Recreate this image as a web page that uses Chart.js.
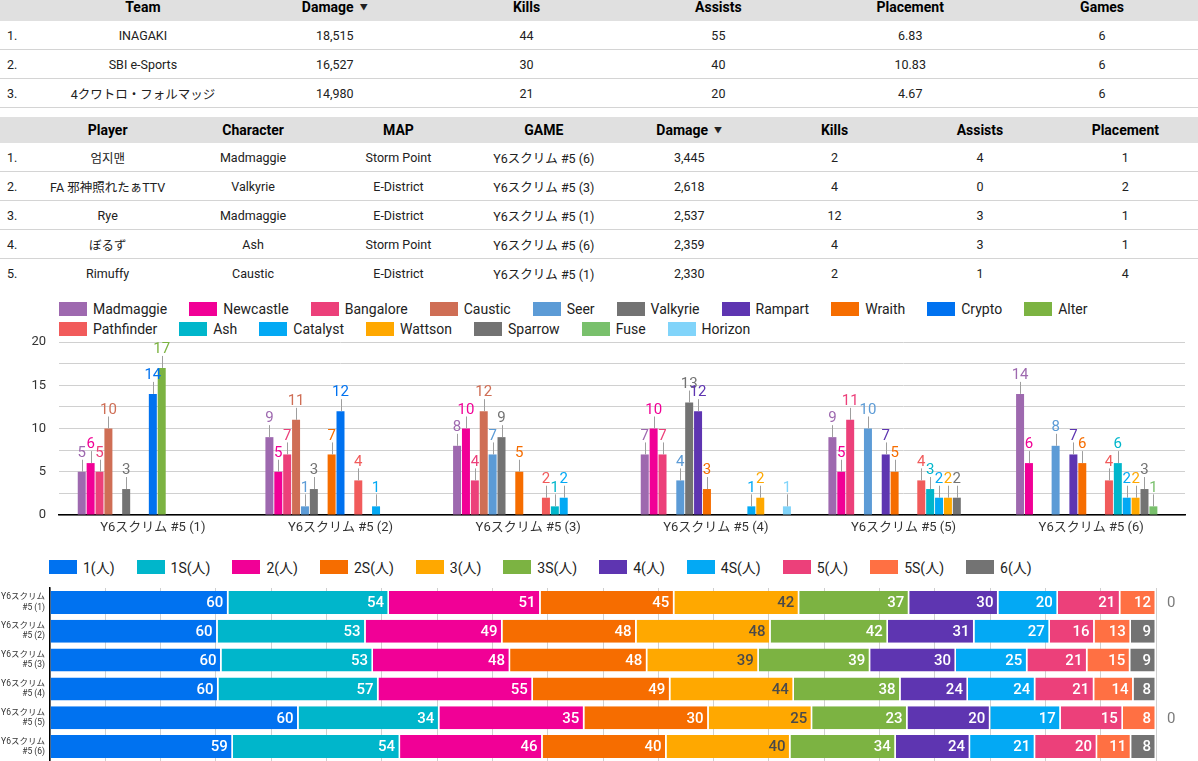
<!DOCTYPE html>
<html>
<head>
<meta charset="utf-8">
<script src="https://cdn.jsdelivr.net/npm/chart.js@4.4.1/dist/chart.umd.min.js"></script>
<style>
body{margin:0;width:1198px;height:761px;overflow:hidden;background:#fff;position:relative;
  font-family:Roboto,"Noto Sans CJK JP","Noto Sans CJK KR",sans-serif;color:#212121}
table{border-collapse:collapse;table-layout:fixed;position:absolute;left:0;width:1198px}
th{background:#e0e0e0;font-weight:700;font-size:14px;color:#000;text-align:center;padding:0;white-space:nowrap}
th .arr{font-size:8px;margin-left:6px;vertical-align:2px;color:#222}
td{font-size:12.5px;text-align:center;padding:0;border-bottom:1px solid #d4d4d4;white-space:nowrap;overflow:hidden}
td.i,th.i{text-align:left;padding-left:7px}
#t1{top:-7px} #t1 th{height:28px} #t1 td{height:28px}
#t2{top:117px} #t2 th{height:26px} #t2 td{height:28px}
#t2 tr:last-child td{border-bottom:none}
.legend{position:absolute;display:flex;flex-wrap:wrap;column-gap:22px;row-gap:6px;font-size:14px;color:#222}
.legend .it{display:flex;align-items:center;height:14px;white-space:nowrap}
.legend .bx{width:28px;height:14px;margin-right:6px}
#lg1{left:59px;top:302px;width:1120px}
#lg2{left:49px;top:560px;width:1140px;column-gap:22px}
.cv{position:absolute;left:0;width:1198px}
#w1{top:336px;height:205px}
#w2{top:584px;height:177px}
</style>
</head>
<body>
<table id="t1"></table>
<table id="t2"></table>
<div class="legend" id="lg1"></div>
<div class="cv" id="w1"><canvas id="c1"></canvas></div>
<div class="legend" id="lg2"></div>
<div class="cv" id="w2"><canvas id="c2"></canvas></div>
<script>
// ---- top tables ----
const teamCols = ["Team", "Damage", "Kills", "Assists", "Placement", "Games"];
const teamRows = [
  ["INAGAKI", "18,515", "44", "55", "6.83", "6"],
  ["SBI e-Sports", "16,527", "30", "40", "10.83", "6"],
  ["4クワトロ・フォルマッジ", "14,980", "21", "20", "4.67", "6"],
];
const playerCols = ["Player", "Character", "MAP", "GAME", "Damage", "Kills", "Assists", "Placement"];
const playerRows = [
  ["엄지맨", "Madmaggie", "Storm Point", "Y6スクリム #5 (6)", "3,445", "2", "4", "1"],
  ["FA 邪神照れたぁTTV", "Valkyrie", "E-District", "Y6スクリム #5 (3)", "2,618", "4", "0", "2"],
  ["Rye", "Madmaggie", "E-District", "Y6スクリム #5 (1)", "2,537", "12", "3", "1"],
  ["ぼるず", "Ash", "Storm Point", "Y6スクリム #5 (6)", "2,359", "4", "3", "1"],
  ["Rimuffy", "Caustic", "E-District", "Y6スクリム #5 (1)", "2,330", "2", "1", "4"],
];

// ---- kills per character per game ----
const games = ["Y6スクリム #5 (1)", "Y6スクリム #5 (2)", "Y6スクリム #5 (3)", "Y6スクリム #5 (4)", "Y6スクリム #5 (5)", "Y6スクリム #5 (6)"];
const madmaggie  = [5, 9, 8, 7, 9, 14];
const newcastle  = [6, 5, 10, 10, 5, 6];
const bangalore  = [5, 7, 4, 7, 11, null];
const caustic    = [10, 11, 12, null, null, null];
const seer       = [null, 1, 7, 4, 10, 8];
const valkyrie   = [3, 3, 9, 13, null, null];
const rampart    = [null, null, null, 12, 7, 7];
const wraith     = [null, 7, 5, 3, 5, 6];
const crypto     = [14, 12, null, null, null, null];
const alter      = [17, null, null, null, null, null];
const pathfinder = [null, 4, 2, null, 4, 4];
const ash        = [null, null, 1, null, 3, 6];
const catalyst   = [null, 1, 2, 1, 2, 2];
const wattson    = [null, null, null, 2, 2, 2];
const sparrow    = [null, null, null, null, 2, 3];
const fuse       = [null, null, null, null, null, 1];
const horizon    = [null, null, null, 1, null, null];
const charNames  = ["Madmaggie","Newcastle","Bangalore","Caustic","Seer","Valkyrie","Rampart","Wraith","Crypto","Alter",
                    "Pathfinder","Ash","Catalyst","Wattson","Sparrow","Fuse","Horizon"];
const charData   = [madmaggie,newcastle,bangalore,caustic,seer,valkyrie,rampart,wraith,crypto,alter,
                    pathfinder,ash,catalyst,wattson,sparrow,fuse,horizon];
const charColors = ["#9e69af","#f10096","#ec407a","#cf6e55","#5c9bd6","#737373","#5e35b1","#f66d00","#0072f0","#7cb342",
                    "#f15b5b","#00b6cb","#03a9f4","#ffa800","#737373","#79c06c","#81d4fa"];
const killTicks = [0, 5, 10, 15, 20];

// ---- placement counts per game (shown as 100% stacked) ----
const gameTicks = games.map(g => ["Y6スクリム", g.replace("Y6スクリム ", "")]);
const p1  = [60, 60, 60, 60, 60, 59];
const p1s = [54, 53, 53, 57, 34, 54];
const p2  = [51, 49, 48, 55, 35, 46];
const p2s = [45, 48, 48, 49, 30, 40];
const p3  = [42, 48, 39, 44, 25, 40];
const p3s = [37, 42, 39, 38, 23, 34];
const p4  = [30, 31, 30, 24, 20, 24];
const p4s = [20, 27, 25, 24, 17, 21];
const p5  = [21, 16, 21, 21, 15, 20];
const p5s = [12, 13, 15, 14, 8, 11];
const p6  = [0, 9, 9, 8, 0, 8];
const placeNames  = ["1(人)","1S(人)","2(人)","2S(人)","3(人)","3S(人)","4(人)","4S(人)","5(人)","5S(人)","6(人)"];
const placeData   = [p1, p1s, p2, p2s, p3, p3s, p4, p4s, p5, p5s, p6];
const placeColors = ["#0072f0","#00b6cb","#f10096","#f66d00","#ffa800","#7cb342","#5e35b1","#03a9f4","#ec407a","#ff7043","#737373"];

// tables
function fillTable(id, cols, rows, sortCol) {
  const w0 = id === "t1" ? 47 : 35, w = (1198 - w0) / cols.length;
  let h = `<colgroup><col style="width:${w0}px">` + cols.map(() => `<col style="width:${w}px">`).join("") + "</colgroup>";
  h += "<tr><th class='i'></th>" + cols.map(c => `<th>${c}${c === sortCol ? "<span class='arr'>▼</span>" : ""}</th>`).join("") + "</tr>";
  h += rows.map((r, i) => `<tr><td class="i">${i + 1}.</td>` + r.map(v => `<td>${v}</td>`).join("") + "</tr>").join("");
  document.getElementById(id).innerHTML = h;
}
fillTable("t1", teamCols, teamRows, "Damage");
fillTable("t2", playerCols, playerRows, "Damage");

function fillLegend(id, names, colors) {
  document.getElementById(id).innerHTML = names.map((n, i) =>
    `<div class="it"><span class="bx" style="background:${colors[i]}"></span>${n}</div>`).join("");
}
fillLegend("lg1", charNames, charColors);
fillLegend("lg2", placeNames, placeColors);

Chart.defaults.font.family = "Roboto, 'Noto Sans CJK JP', sans-serif";
Chart.defaults.color = "#333";
Chart.defaults.animation = false;

// keep the plot edges where the picture has them
const noPad = s => { s.paddingTop = 0; s.paddingBottom = 0; };

// value above each bar with a short grey stem
const stemLabels = {
  id: "stemLabels",
  afterDatasetsDraw(chart) {
    const ctx = chart.ctx;
    ctx.save();
    ctx.font = "15px Roboto";
    ctx.textAlign = "center"; ctx.textBaseline = "bottom";
    chart.data.datasets.forEach((ds, i) => {
      chart.getDatasetMeta(i).data.forEach((el, j) => {
        const v = ds.data[j];
        if (v == null) return;
        ctx.strokeStyle = "#9e9e9e"; ctx.lineWidth = 1;
        ctx.beginPath(); ctx.moveTo(Math.round(el.x) + 0.5, el.y); ctx.lineTo(Math.round(el.x) + 0.5, el.y - 12); ctx.stroke();
        ctx.fillStyle = ds.backgroundColor;
        ctx.fillText(v, el.x, el.y - 11);
      });
    });
    ctx.restore();
  }
};

new Chart(document.getElementById("c1"), {
  type: "bar",
  data: {labels: games, datasets: charNames.map((n, i) => ({label: n, data: charData[i], backgroundColor: charColors[i],
    categoryPercentage: 0.805, barPercentage: 0.9}))},
  options: {
    responsive: true, maintainAspectRatio: false,
    layout: {padding: {top: 6, right: 13}},
    plugins: {legend: {display: false}, tooltip: {enabled: false}},
    scales: {
      x: {grid: {display: false, drawTicks: false}, border: {color: "#000", width: 1.5},
          ticks: {font: {size: 13}, color: "#333", padding: 5}, afterFit: s => { s.height = 26; }},
      y: {min: 0, max: 20, ticks: {stepSize: 2.5, padding: 13, font: {size: 13}, color: "#333",
            callback: v => killTicks.includes(v) ? v : ""},
          grid: {color: "#d0d0d0", drawTicks: false}, border: {display: false},
          afterFit: s => { s.width = 59; noPad(s); }}
    }
  },
  plugins: [stemLabels]
});

// percent of each game's total
const totals = games.map((g, j) => placeData.reduce((s, a) => s + a[j], 0));
const placePct = placeData.map(a => a.map((v, j) => v / totals[j] * 100));

const segLabels = {
  id: "segLabels",
  afterDatasetsDraw(chart) {
    const ctx = chart.ctx, area = chart.chartArea;
    ctx.save();
    ctx.textBaseline = "middle";
    chart.data.datasets.forEach((ds, i) => {
      chart.getDatasetMeta(i).data.forEach((el, j) => {
        const v = placeData[i][j];
        if (v > 0) {
          ctx.font = "500 15px Roboto"; ctx.textAlign = "right";
          ctx.fillStyle = i === 4 ? "#4a4a4a" : "#fff";
          ctx.fillText(v, el.x - 5, el.y + 1);
        } else if (i === placeData.length - 1) {
          ctx.font = "15px Roboto"; ctx.textAlign = "left"; ctx.fillStyle = "#7a7a7a";
          ctx.fillText("0", area.right + 11, el.y + 1);
        }
      });
    });
    ctx.restore();
  }
};

new Chart(document.getElementById("c2"), {
  type: "bar",
  data: {labels: gameTicks, datasets: placeNames.map((n, i) => ({label: n, data: placePct[i], backgroundColor: placeColors[i],
    borderColor: "#fff", borderWidth: {right: 1.5, left: 0, top: 0, bottom: 0}, borderSkipped: false,
    categoryPercentage: 0.8, barPercentage: 1}))},
  options: {
    indexAxis: "y", responsive: true, maintainAspectRatio: false,
    layout: {padding: {top: 4, right: 42}},
    plugins: {legend: {display: false}, tooltip: {enabled: false}},
    scales: {
      x: {stacked: true, min: 0, max: 100, ticks: {display: false, stepSize: 5},
          grid: {color: "#d0d0d0", drawTicks: false}, border: {display: false},
          afterFit: s => { s.height = 0; s.paddingLeft = 0; s.paddingRight = 0; }},
      y: {stacked: true, grid: {display: false, drawTicks: false}, border: {color: "#000", width: 1.5},
          ticks: {font: {size: 8.5, lineHeight: 1.2}, color: "#333", padding: 5},
          afterFit: s => { s.width = 50; noPad(s); }}
    }
  },
  plugins: [segLabels]
});
</script>
</body>
</html>
